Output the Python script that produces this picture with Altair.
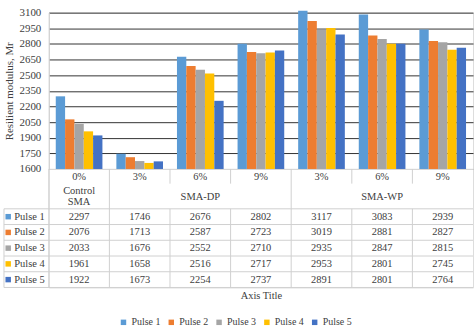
import altair as alt
import pandas as pd

# ---------------- data ----------------
cat_ids = ["c0", "dp3", "dp6", "dp9", "wp3", "wp6", "wp9"]
cat_labels = ["0%", "3%", "6%", "9%", "3%", "6%", "9%"]
group_labels = ["Control\nSMA", "SMA-DP", "SMA-WP"]
group_first_col = [0, 1, 4]
group_ncols = [1, 3, 3]
pulses = ["Pulse 1", "Pulse 2", "Pulse 3", "Pulse 4", "Pulse 5"]
pulse_colors = ["#5B9BD5", "#ED7D31", "#A5A5A5", "#FFC000", "#4472C4"]
pulse1 = [2297, 1746, 2676, 2802, 3117, 3083, 2939]
pulse2 = [2076, 1713, 2587, 2723, 3019, 2881, 2827]
pulse3 = [2033, 1676, 2552, 2710, 2935, 2847, 2815]
pulse4 = [1961, 1658, 2516, 2717, 2953, 2801, 2745]
pulse5 = [1922, 1673, 2254, 2737, 2891, 2801, 2764]
series = [pulse1, pulse2, pulse3, pulse4, pulse5]
y_ticks = list(range(1600, 3101, 150))
y_title = "Resilient modulus, Mr"
x_title = "Axis Title"

FONT = "Liberation Serif, Times New Roman, serif"
TXT = "#404040"
GRID_T = "#d0d0d0"

# ---------------- tables ----------------
bars = pd.DataFrame([
    {"cat": c, "pulse": p, "value": v}
    for p, s in zip(pulses, series) for c, v in zip(cat_ids, s)
])

ncol = len(cat_ids)
PLOT_W = 426
STEP = PLOT_W / ncol
HDR_W = 45
hdr_units = HDR_W / STEP
ROW_H = 15.8
HEAD_H = 40
head_units = HEAD_H / ROW_H
TABLE_H = HEAD_H + ROW_H * len(pulses)

cells = pd.DataFrame([
    {"x": i + 0.5, "y": r + 0.5, "t": str(v)}
    for r, s in enumerate(series) for i, v in enumerate(s)
])
cats = pd.DataFrame([{"x": i + 0.5, "y": -2.03, "t": l} for i, l in enumerate(cat_labels)])
grps = pd.DataFrame([
    {"x": f + n / 2, "y": -0.78 - 0.35 * g.count("\n"), "t": g}
    for g, f, n in zip(group_labels, group_first_col, group_ncols)
])
hdr = pd.DataFrame([{"pulse": p, "y": r + 0.5} for r, p in enumerate(pulses)])
hdr["xs"] = -0.67
hdr["xt"] = -0.57

group_edges = set(group_first_col)
vl = []
for b in range(0, ncol):
    if b in group_edges:
        vl.append({"x": b, "y": -head_units, "y2": len(pulses)})
    else:
        vl.append({"x": b, "y": -head_units, "y2": -1.6})
        vl.append({"x": b, "y": 0, "y2": len(pulses)})
vl.append({"x": -hdr_units, "y": 0, "y2": len(pulses)})
vlines = pd.DataFrame(vl)
hlines = pd.DataFrame([{"y": r, "x": -hdr_units, "x2": ncol} for r in range(0, len(pulses) + 1)])

color_scale = alt.Scale(domain=pulses, range=pulse_colors)
legend = alt.Legend(
    orient="none", legendX=70, legendY=306, direction="horizontal", title=None,
    symbolType="square", symbolSize=30, symbolStrokeWidth=0, labelFont=FONT,
    labelFontSize=10, labelColor=TXT, columnPadding=5, labelOffset=3,
)

# ---------------- bar panel ----------------
bar_chart = alt.Chart(bars).mark_bar().encode(
    x=alt.X("cat:N", sort=cat_ids, axis=None,
            scale=alt.Scale(paddingInner=0.23, paddingOuter=0.115)),
    xOffset=alt.XOffset("pulse:N", sort=pulses),
    y=alt.Y("value:Q", scale=alt.Scale(domain=[1600, 3100], nice=False, zero=False),
            axis=alt.Axis(values=y_ticks, format="d", title=y_title, ticks=False,
                          labelPadding=8, minExtent=30, maxExtent=30, titlePadding=4,
                          gridColor="#333333", gridWidth=1,
                          domainColor=GRID_T, labelFont=FONT, labelFontSize=11,
                          labelColor=TXT, titleFont=FONT, titleFontSize=11,
                          titleFontWeight="normal", titleColor=TXT)),
    y2=alt.datum(1600),
    color=alt.Color("pulse:N", scale=color_scale, sort=pulses, legend=legend),
).properties(width=PLOT_W, height=157)

# ---------------- table panel ----------------
xs = alt.Scale(domain=[0, ncol], nice=False, zero=False)
ys = alt.Scale(domain=[-head_units, len(pulses)], nice=False, zero=False, reverse=True)
x_axis = alt.Axis(title=x_title, labels=False, ticks=False, domain=False, grid=False,
                  titlePadding=3, titleFont=FONT,
                  titleFontSize=10.5, titleFontWeight="normal", titleColor=TXT)

vrules = alt.Chart(vlines).mark_rule(color=GRID_T, strokeWidth=1).encode(
    x=alt.X("x:Q", scale=xs, axis=x_axis),
    y=alt.Y("y:Q", scale=ys, axis=None), y2="y2:Q")
hrules = alt.Chart(hlines).mark_rule(color=GRID_T, strokeWidth=1).encode(
    x=alt.X("x:Q", scale=xs, axis=x_axis), x2="x2:Q",
    y=alt.Y("y:Q", scale=ys, axis=None))

def txt(df, **kw):
    return alt.Chart(df).mark_text(font=FONT, fontSize=10.5, color=TXT, **kw).encode(
        x=alt.X("x:Q", scale=xs, axis=x_axis),
        y=alt.Y("y:Q", scale=ys, axis=None), text="t:N")

cell_txt = txt(cells)
cat_txt = txt(cats)
grp_txt = txt(grps, lineBreak="\n", lineHeight=11)
sq = alt.Chart(hdr).mark_square(size=30, opacity=1).encode(
    x=alt.X("xs:Q", scale=xs, axis=x_axis),
    y=alt.Y("y:Q", scale=ys, axis=None),
    color=alt.Color("pulse:N", scale=color_scale, sort=pulses, legend=legend))
hdr_txt = alt.Chart(hdr).mark_text(font=FONT, fontSize=10.5, color=TXT, align="left").encode(
    x=alt.X("xt:Q", scale=xs, axis=x_axis),
    y=alt.Y("y:Q", scale=ys, axis=None), text="pulse:N")

table = alt.layer(vrules, hrules, cell_txt, cat_txt, grp_txt, sq, hdr_txt).properties(
    width=PLOT_W, height=TABLE_H)

chart = alt.vconcat(bar_chart, table, spacing=0, bounds="flush").properties(
    padding={"left": 3, "top": 5, "right": 0, "bottom": 0}
).configure_view(stroke=None).configure(background="white")

chart.save("out.html", embed_options={"renderer": "svg", "actions": False})
